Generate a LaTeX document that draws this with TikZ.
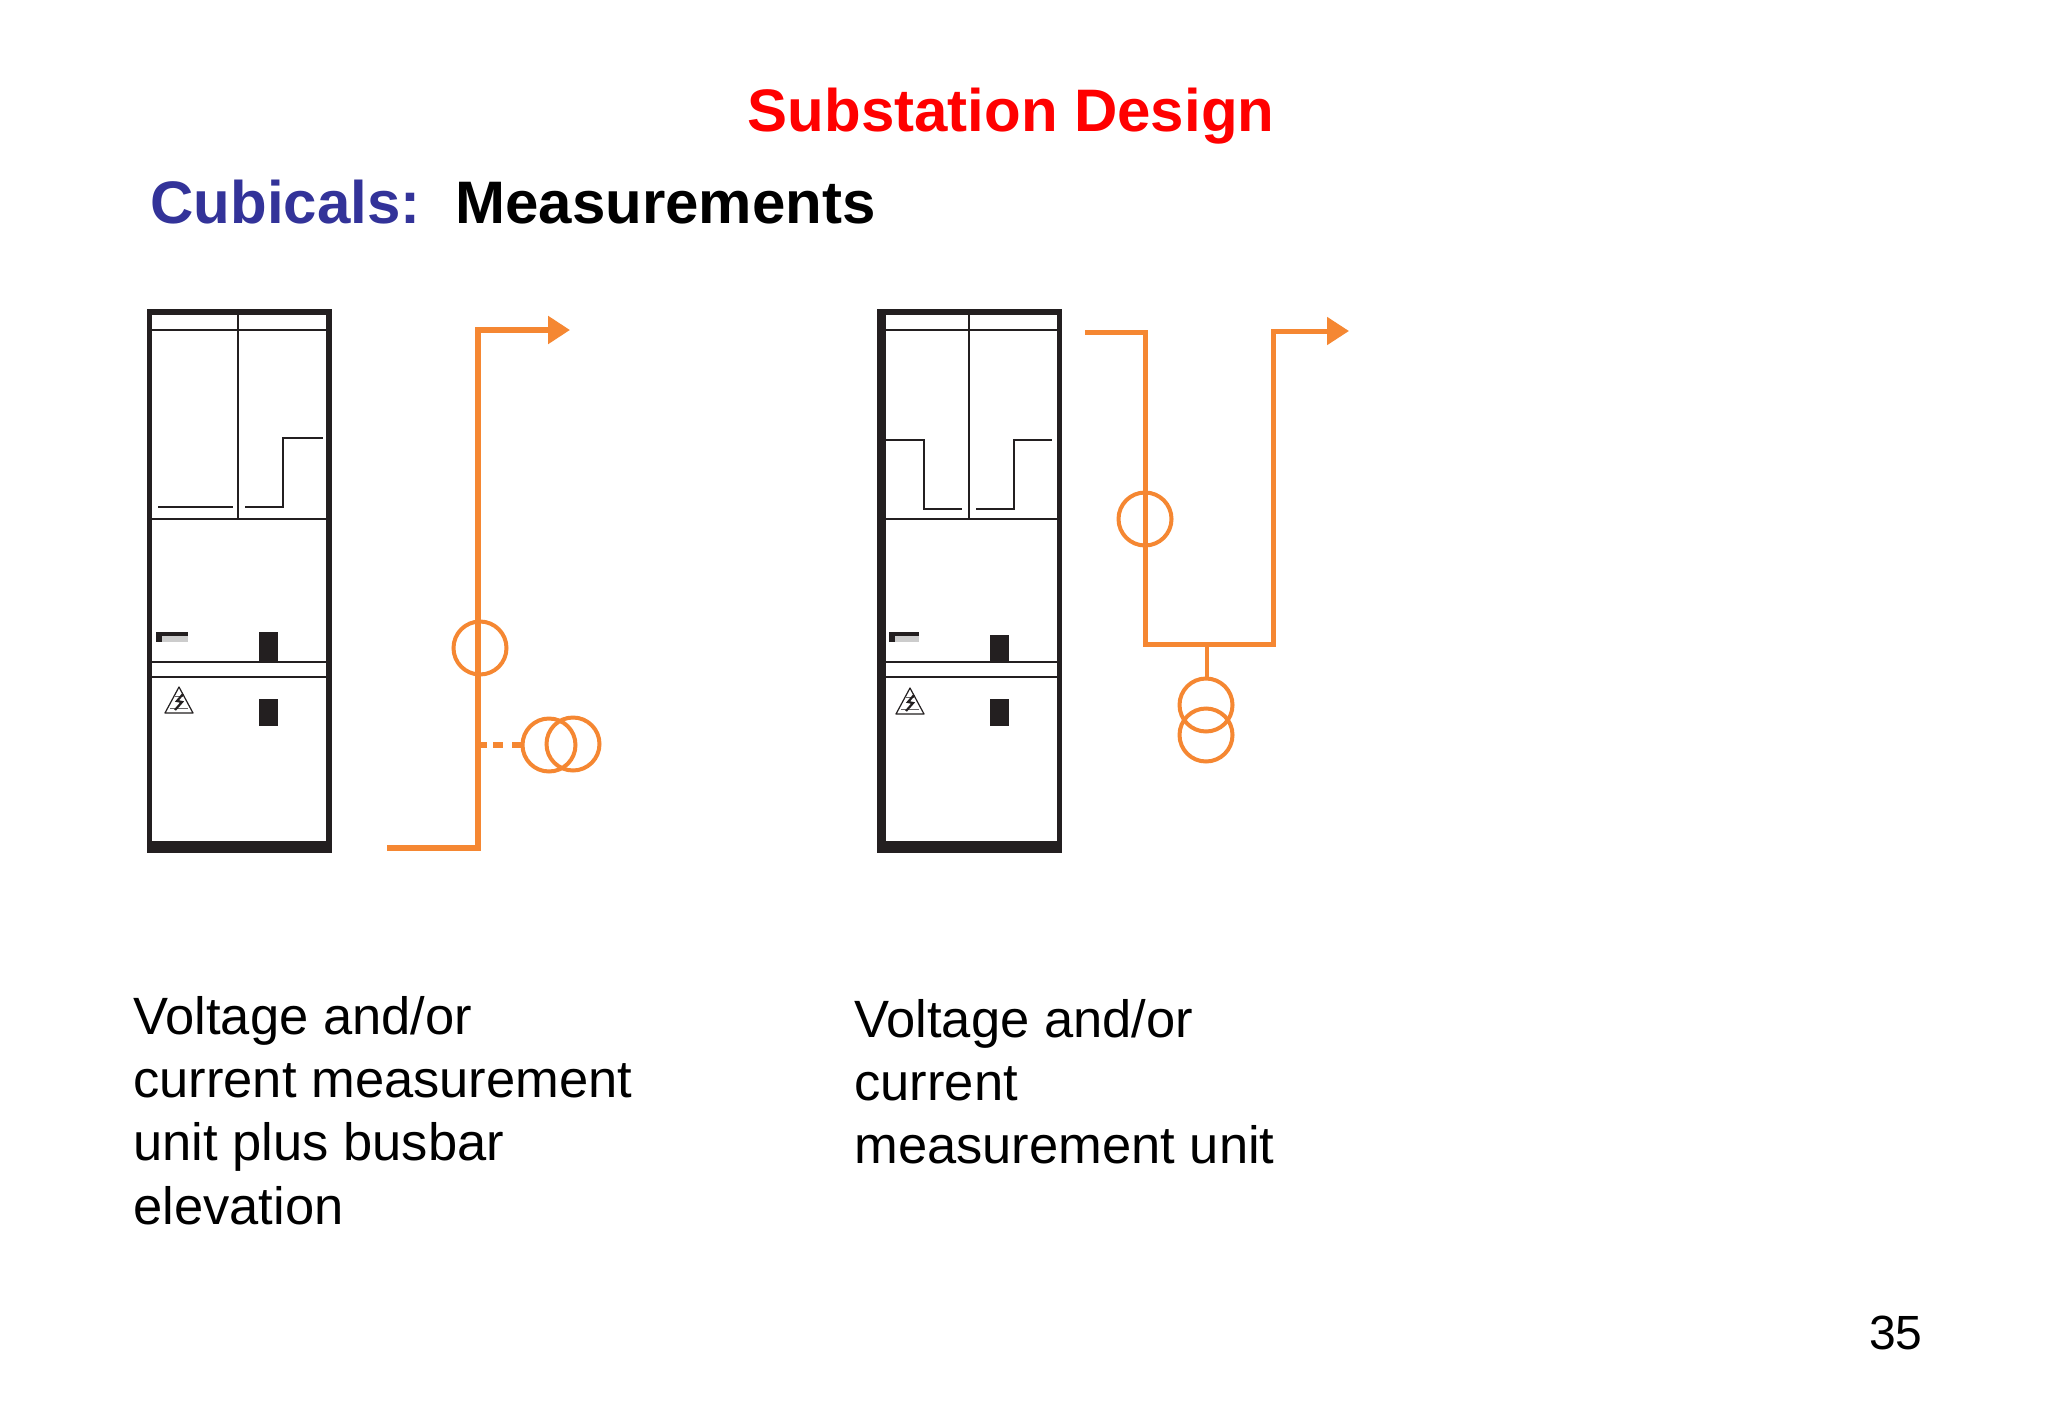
\documentclass[tikz,border=0pt]{standalone}
\usepackage{fontspec}
\setmainfont{Liberation Sans}
\usetikzlibrary{arrows.meta}
\definecolor{cabdark}{HTML}{231F20}
\definecolor{busorange}{HTML}{F58732}
\definecolor{headblue}{HTML}{333399}
\tikzset{
  wall/.style={fill=cabdark,draw=none},
  thin line/.style={draw=cabdark,line width=0.7pt},
  bus/.style={draw=busorange,line width=2.7pt},
  feeder/.style={bus,-{Triangle[length=11pt,width=13.5pt]}},
  meter/.style={circle,draw=busorange,line width=2pt,minimum size=26.5pt,inner sep=0pt},
  heading/.style={font=\fontsize{30}{36}\selectfont\bfseries,inner sep=0pt},
  body/.style={font=\fontsize{26.25}{31.6}\selectfont,align=left,inner sep=0pt,anchor=north west},
  warnsign/.pic={
    \draw[cabdark,line width=0.6pt,line join=round] (-14,13)--(0,-13)--(14,13)--cycle;
    \draw[cabdark!70,line width=0.4pt] (-9,8)--(9,8) (-4,-4)--(4,-4);
    \draw[cabdark,line width=1.1pt] (4,-6)--(-2,1)--(3,2)--(-4,10);
  }
}
\begin{document}
\begin{tikzpicture}[x=0.5pt,y=-0.5pt]
\useasboundingbox (0,0) rectangle (2048,1418);
\fill[white] (0,0) rectangle (2048,1418);

% titles
\node[heading,text=red,anchor=base] (title) at (1011,132) {Substation Design};
\node[heading,text=headblue,anchor=base west] (cub) at (150,223) {Cubicals:};
\node[heading,text=black,anchor=base west] (meas) at (455,223) {Measurements};

% left cabinet
\fill[wall] (147,309) rectangle (332,853);
\fill[white] (152,315) rectangle (326,841);
\draw[thin line] (152,330)--(326,330) (152,519)--(326,519) (238,315)--(238,519);
\draw[thin line] (158,507)--(233,507);
\draw[thin line] (245,507)--(283,507)--(283,438)--(323,438);
\draw[thin line] (152,662)--(326,662) (152,677)--(326,677);
\fill[wall] (259,632) rectangle (278,662);
\fill[wall] (259,699) rectangle (278,726);
\fill[black!20] (162,636) rectangle (188,642);
\fill[wall] (156,632) rectangle (188,636);
\fill[wall] (156,632) rectangle (162,642);
\pic at (179,700) {warnsign};

% left single line
\coordinate (lin) at (387,848);
\coordinate (lout) at (570,330);
\coordinate (lcorner) at (478,848);
\node[meter] (lct) at (480,648) {};
\node[meter] (lvta) at (549,745) {};
\node[meter] (lvtb) at (573,744) {};
\coordinate (ltap) at (481,745);
\draw[feeder] (lin) -- (lcorner) -- (lcorner |- lout) -- (lout);
\draw[bus,line width=2.6pt,dash pattern=on 3pt off 3pt on 5pt off 4.5pt on 6pt] (ltap) -- (lvta.west);

% right cabinet
\fill[wall] (877,309) rectangle (1062,853);
\fill[white] (886,315) rectangle (1057,841);
\draw[thin line] (886,330)--(1057,330) (886,519)--(1057,519) (969,315)--(969,519);
\draw[thin line] (886,440)--(924,440)--(924,509)--(962,509);
\draw[thin line] (976,509)--(1014,509)--(1014,440)--(1052,440);
\draw[thin line] (886,662)--(1057,662) (886,677)--(1057,677);
\fill[wall] (990,635) rectangle (1009,662);
\fill[wall] (990,699) rectangle (1009,726);
\fill[black!20] (895,636) rectangle (919,642);
\fill[wall] (889,632) rectangle (919,636);
\fill[wall] (889,632) rectangle (895,642);
\pic at (910,701) {warnsign};

% right single line
\coordinate (rin) at (1085,332);
\coordinate (rc1) at (1145,332);
\coordinate (rc2) at (1145,644);
\coordinate (rc3) at (1273,644);
\coordinate (rc4) at (1273,331);
\coordinate (rout) at (1349,331);
\node[meter] (rct) at (1145,519) {};
\node[meter] (rvta) at (1206,705) {};
\node[meter] (rvtb) at (1206,735) {};
\draw[feeder,line width=2.5pt] (rin) -- (rc1) -- (rc2) -- (rc3) -- (rc4) -- (rout);
\draw[bus,line width=2.4pt] (rc2 -| rvta) ++(1,0) -- ([xshift=0.5pt]rvta.north);

% texts
\node[body] (ltext) at (133,996) {Voltage and/or\\current measurement\\unit plus busbar\\elevation};
\node[body] (rtext) at (854,999) {Voltage and/or\\current\\measurement unit};
\node[font=\fontsize{24}{29}\selectfont,inner sep=0pt,anchor=base east] (pageno) at (1923,1349) {35};
\end{tikzpicture}
\end{document}
